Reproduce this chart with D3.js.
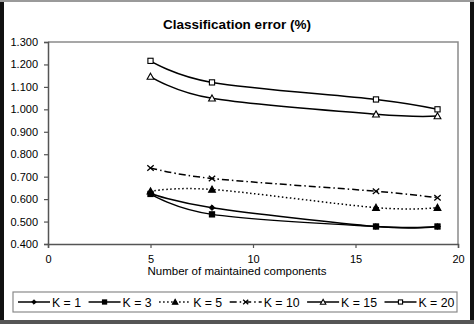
<!DOCTYPE html>
<html><head><meta charset="utf-8">
<script src="https://cdn.jsdelivr.net/npm/d3@7"></script>
<style>body{margin:0;background:#fff}svg{display:block}text{font-family:Arial,"Liberation Sans",sans-serif}</style>
</head><body><svg id="c" width="474" height="324"></svg>
<script>
const components = [5, 8, 16, 19];
const k1 = [0.625, 0.562, 0.478, 0.478];
const k3 = [0.623, 0.532, 0.478, 0.478];
const k5 = [0.635, 0.643, 0.562, 0.562];
const k10 = [0.739, 0.692, 0.635, 0.606];
const k15 = [1.146, 1.049, 0.978, 0.970];
const k20 = [1.216, 1.120, 1.044, 1.000];
const seriesNames = ["K = 1", "K = 3", "K = 5", "K = 10", "K = 15", "K = 20"];
const xTicks = [0, 5, 10, 15, 20];
const yTicks = [0.4, 0.5, 0.6, 0.7, 0.8, 0.9, 1.0, 1.1, 1.2, 1.3];

const series = [
  {name: seriesNames[0], values: k1, marker: "diamond", fill: true, dash: null},
  {name: seriesNames[1], values: k3, marker: "square", fill: true, dash: null},
  {name: seriesNames[2], values: k5, marker: "triangle", fill: true, dash: "1.5,2.5"},
  {name: seriesNames[3], values: k10, marker: "cross", fill: false, dash: "7,3,1.5,3"},
  {name: seriesNames[4], values: k15, marker: "triangle", fill: false, dash: null},
  {name: seriesNames[5], values: k20, marker: "square", fill: false, dash: null}
];

const svg = d3.select("#c");
// frame
svg.append("rect").attr("width", 474).attr("height", 324).attr("fill", "#111");
svg.append("rect").attr("x", 0).attr("y", 0).attr("width", 474).attr("height", 2).attr("fill", "#9a9a9a");
svg.append("rect").attr("x", 4).attr("y", 2).attr("width", 466).attr("height", 318).attr("fill", "#fff");
svg.append("rect").attr("x", 0).attr("y", 320).attr("width", 474).attr("height", 4).attr("fill", "#555");

const L = 48, R = 458, T = 42, B = 244;
const x = d3.scaleLinear().domain([0, 20]).range([L, R]);
const y = d3.scaleLinear().domain([0.4, 1.3]).range([B, T]);

// plot border
svg.append("path").attr("d", `M${L},${T}H${R}V${B}`).attr("fill", "none").attr("stroke", "#8a8a8a").attr("stroke-width", 1.5);

const yAxis = svg.append("g").attr("transform", `translate(${L},0)`)
  .call(d3.axisLeft(y).tickValues(yTicks).tickFormat(d3.format(".3f")).tickSize(4).tickPadding(6));
const xAxis = svg.append("g").attr("transform", `translate(0,${B})`)
  .call(d3.axisBottom(x).tickValues(xTicks).tickFormat(d3.format("d")).tickSize(4).tickPadding(7));
[yAxis, xAxis].forEach(a => {
  a.select(".domain").attr("stroke", "#555").attr("stroke-width", 1.5);
  a.selectAll(".tick line").attr("stroke", "#555").attr("stroke-width", 1.2);
  a.selectAll("text").attr("font-size", 11).attr("fill", "#000").attr("font-family", "Arial, 'Liberation Sans', sans-serif");
});

// title
svg.append("text").attr("x", 237).attr("y", 29).attr("text-anchor", "middle")
  .attr("font-size", 13.5).attr("font-weight", "bold").text("Classification error (%)");
svg.append("text").attr("x", 237).attr("y", 275).attr("text-anchor", "middle")
  .attr("font-size", 11.5).text("Number of maintained components");

function drawMarker(g, type, fill, cx, cy, k) {
  const f = fill ? "#000" : "#fff";
  if (type === "diamond") {
    const d = 2.8 * k;
    g.append("path").attr("d", `M${cx},${cy-d}L${cx+d},${cy}L${cx},${cy+d}L${cx-d},${cy}Z`).attr("fill", "#000").attr("stroke", "#000");
  } else if (type === "square") {
    const s = 2.6 * k;
    g.append("rect").attr("x", cx - s).attr("y", cy - s).attr("width", 2*s).attr("height", 2*s)
      .attr("fill", f).attr("stroke", "#000").attr("stroke-width", 1.1);
  } else if (type === "triangle") {
    const h = 3.4 * k;
    g.append("path").attr("d", `M${cx},${cy-h}L${cx+h},${cy+h*0.8}L${cx-h},${cy+h*0.8}Z`)
      .attr("fill", f).attr("stroke", "#000").attr("stroke-width", 1.1);
  } else if (type === "cross") {
    const c = 3.2 * k;
    g.append("path").attr("d", `M${cx-c},${cy-c*0.85}L${cx+c},${cy+c*0.85}M${cx-c},${cy+c*0.85}L${cx+c},${cy-c*0.85}`)
      .attr("stroke", "#000").attr("stroke-width", 1.3);
  }
}

const line = d3.line().x(d => x(d[0])).y(d => y(d[1])).curve(d3.curveCardinal.tension(0));
series.forEach(s => {
  const pts = components.map((c, i) => [c, s.values[i]]);
  const g = svg.append("g");
  g.append("path").attr("d", line(pts)).attr("fill", "none").attr("stroke", "#000")
    .attr("stroke-width", 1.5).attr("stroke-dasharray", s.dash);
  pts.forEach(p => drawMarker(g, s.marker, s.fill, x(p[0]), y(p[1]), 1));
});

// legend
const lg = svg.append("g");
lg.append("rect").attr("x", 13).attr("y", 292).attr("width", 444).attr("height", 20)
  .attr("fill", "#fff").attr("stroke", "#8a8a8a").attr("stroke-width", 1.2);
let lx = 18;
const ly = 302;
series.forEach(s => {
  lg.append("line").attr("x1", lx).attr("x2", lx + 32).attr("y1", ly).attr("y2", ly)
    .attr("stroke", "#000").attr("stroke-width", 1.5).attr("stroke-dasharray", s.dash);
  drawMarker(lg, s.marker, s.fill, lx + 16, ly, 0.8);
  const t = lg.append("text").attr("x", lx + 34).attr("y", ly + 4.5).attr("font-size", 12.3).text(s.name);
  lx = lx + 34 + t.node().getComputedTextLength() + 7.5;
});
</script></body></html>
